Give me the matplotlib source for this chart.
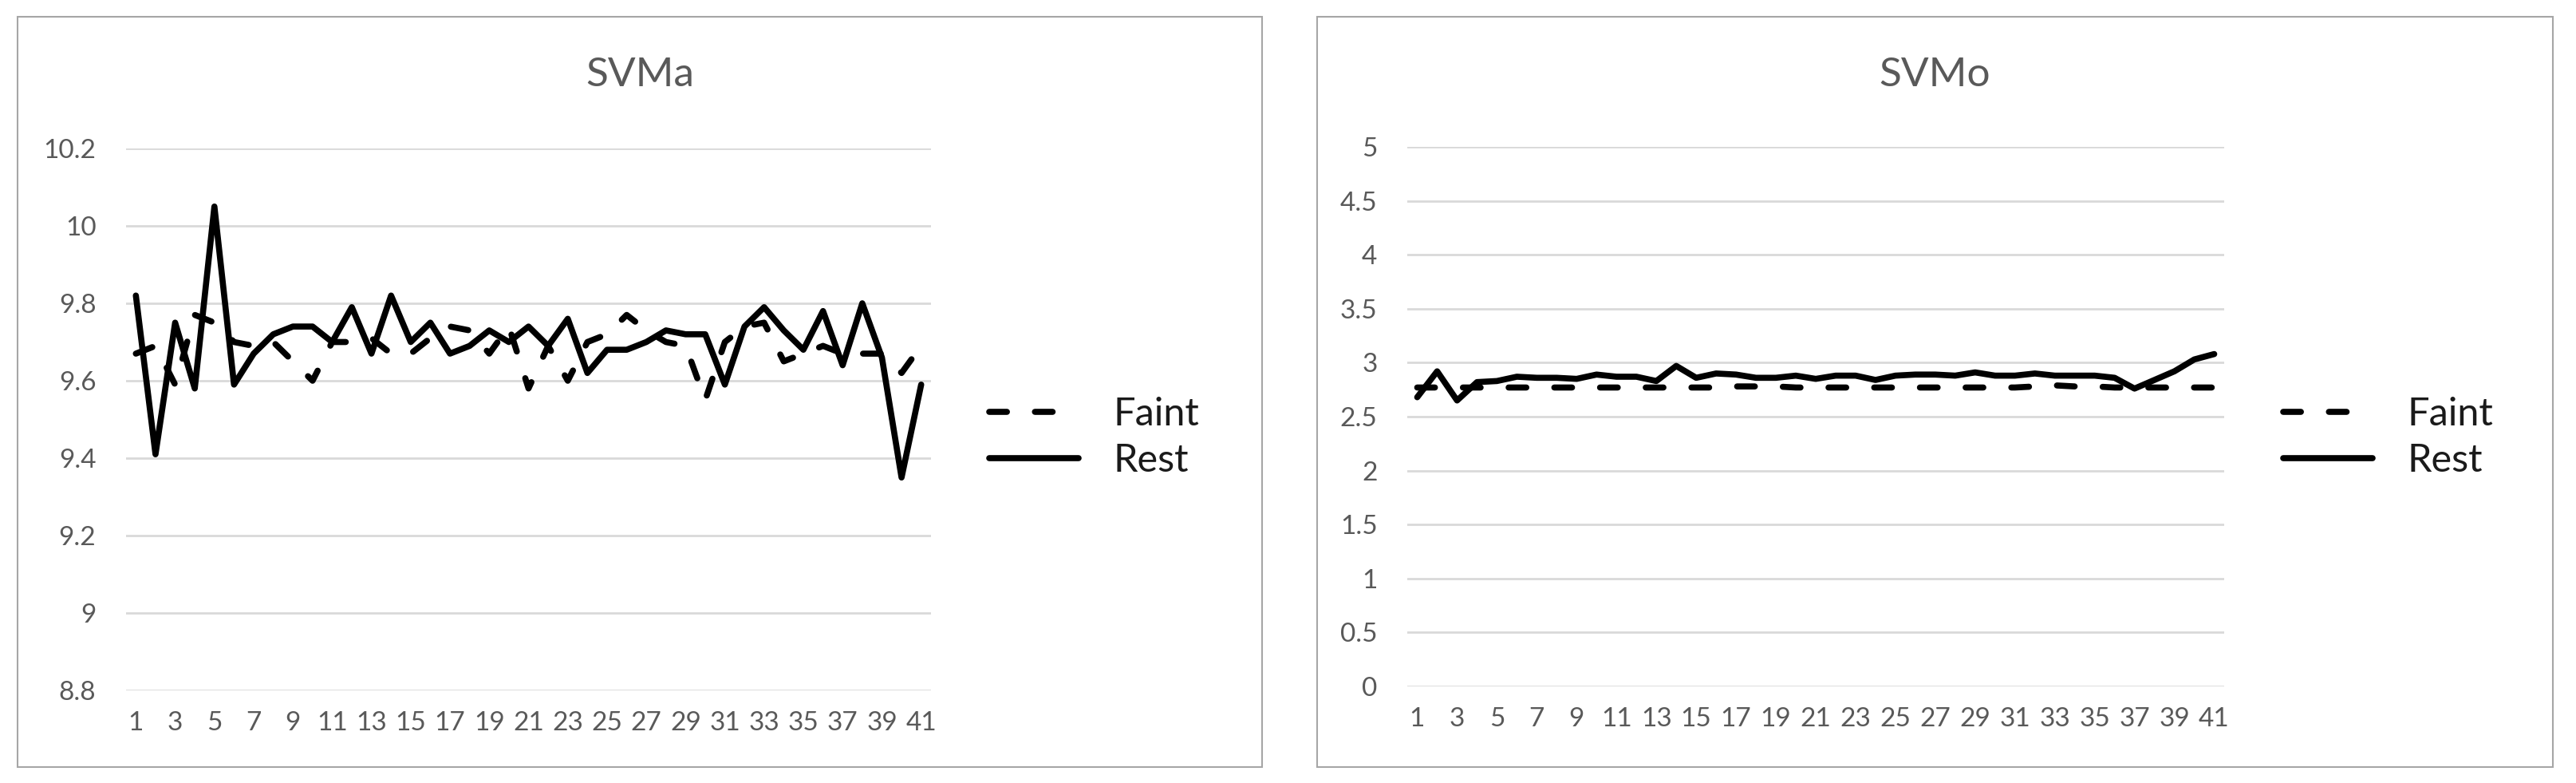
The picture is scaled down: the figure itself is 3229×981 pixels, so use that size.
import matplotlib
matplotlib.use("Agg")
import matplotlib.pyplot as plt
from matplotlib.patches import Rectangle

plt.rcParams['font.family'] = ['Lato', 'DejaVu Sans']

# dados
dias = list(range(1, 42))
rotulos_x = [str(d) if d % 2 == 1 else '' for d in dias]

svma_faint = [9.67, 9.69, 9.59, 9.77, 9.75, 9.70, 9.69, 9.70, 9.65, 9.60,
              9.70, 9.70, 9.71, 9.67, 9.67, 9.71, 9.74, 9.73, 9.67, 9.74,
              9.58, 9.69, 9.60, 9.70, 9.72, 9.77, 9.73, 9.70, 9.69, 9.55,
              9.70, 9.74, 9.75, 9.65, 9.67, 9.69, 9.67, 9.67, 9.67, 9.62,
              9.69]
svma_rest = [9.82, 9.41, 9.75, 9.58, 10.05, 9.59, 9.67, 9.72, 9.74, 9.74,
             9.70, 9.79, 9.67, 9.82, 9.70, 9.75, 9.67, 9.69, 9.73, 9.70,
             9.74, 9.69, 9.76, 9.62, 9.68, 9.68, 9.70, 9.73, 9.72, 9.72,
             9.59, 9.74, 9.79, 9.73, 9.68, 9.78, 9.64, 9.80, 9.66, 9.35,
             9.59]

svmo_faint = [2.77, 2.77, 2.77, 2.77, 2.77, 2.77, 2.77, 2.77, 2.77, 2.77,
              2.77, 2.77, 2.77, 2.77, 2.77, 2.77, 2.78, 2.78, 2.78, 2.77,
              2.77, 2.77, 2.77, 2.77, 2.77, 2.77, 2.77, 2.77, 2.77, 2.77,
              2.77, 2.78, 2.79, 2.78, 2.78, 2.77, 2.77, 2.77, 2.77, 2.77,
              2.77]
svmo_rest = [2.68, 2.92, 2.65, 2.82, 2.83, 2.87, 2.86, 2.86, 2.85, 2.89,
             2.87, 2.87, 2.83, 2.97, 2.86, 2.90, 2.89, 2.86, 2.86, 2.88,
             2.85, 2.88, 2.88, 2.84, 2.88, 2.89, 2.89, 2.88, 2.91, 2.88,
             2.88, 2.90, 2.88, 2.88, 2.88, 2.86, 2.76, 2.84, 2.92, 3.03,
             3.08]

svma_ticks = [8.8, 9, 9.2, 9.4, 9.6, 9.8, 10, 10.2]
svma_ticklabels = ['8.8', '9', '9.2', '9.4', '9.6', '9.8', '10', '10.2']
svmo_ticks = [0, 0.5, 1, 1.5, 2, 2.5, 3, 3.5, 4, 4.5, 5]
svmo_ticklabels = ['0', '0.5', '1', '1.5', '2', '2.5', '3', '3.5', '4', '4.5', '5']

W, H = 3230, 981
fig = plt.figure(figsize=(W / 100, H / 100), dpi=100)

cinza = '#595959'


def painel(box, area, titulo, faint, rest, ticks, ticklabels, leg_x):
    # moldura do gráfico
    x0, y0, x1, y1 = box
    fig.patches.append(Rectangle((x0 / W, 1 - y1 / H), (x1 - x0) / W, (y1 - y0) / H,
                                 transform=fig.transFigure, fill=False,
                                 edgecolor='#a6a6a6', linewidth=1.5))
    fig.text((x0 + x1) / 2 / W, 1 - 94 / H, titulo, ha='center', va='center',
             fontsize=37, color=cinza)

    ax0, ay0, ax1, ay1 = area
    ax = fig.add_axes([ax0 / W, 1 - ay1 / H, (ax1 - ax0) / W, (ay1 - ay0) / H])
    ax.plot(dias, faint, color='black', linewidth=5.5, linestyle=(0, (2.9, 4.6)),
            dash_capstyle='round', dash_joinstyle='round', label='Faint')
    ax.plot(dias, rest, color='black', linewidth=5.5, solid_capstyle='round',
            solid_joinstyle='round', label='Rest')
    ax.set_xlim(0.5, 41.5)
    ax.set_ylim(ticks[0], ticks[-1])
    ax.set_yticks(ticks)
    ax.set_yticklabels(ticklabels)
    ax.set_xticks(dias)
    ax.set_xticklabels(rotulos_x)
    ax.tick_params(axis='both', length=0, labelsize=24, colors=cinza)
    ax.tick_params(axis='x', pad=19)
    ax.tick_params(axis='y', pad=27)
    ax.grid(axis='y', color='#d9d9d9', linewidth=2)
    ax.set_axisbelow(True)
    for s in ax.spines.values():
        s.set_visible(False)
    ax.legend(loc='center left', bbox_to_anchor=(leg_x / W, 1 - 548 / H),
              bbox_transform=fig.transFigure, frameon=False, fontsize=35,
              handlelength=2.3, handletextpad=0.9, labelspacing=0.3,
              borderpad=0, borderaxespad=0, labelcolor='#1a1a1a')
    return ax


painel((22, 21, 1582, 961), (158, 186, 1167, 865), 'SVMa',
       svma_faint, svma_rest, svma_ticks, svma_ticklabels, 1240)
painel((1651, 21, 3200, 961), (1764, 184, 2788, 860), 'SVMo',
       svmo_faint, svmo_rest, svmo_ticks, svmo_ticklabels, 2862)

fig.savefig('out.png', dpi=100)
